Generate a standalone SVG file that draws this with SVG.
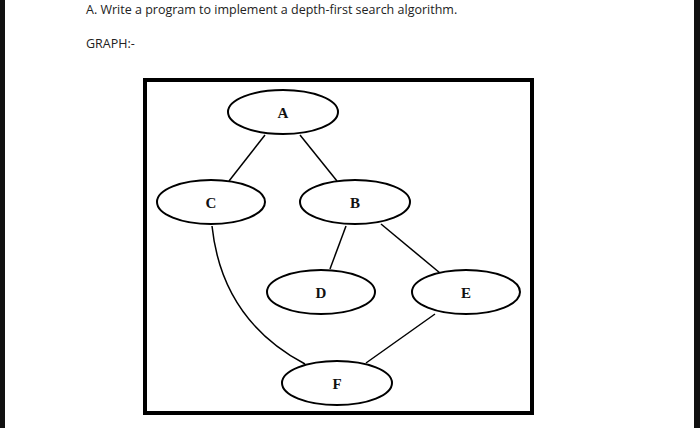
<svg xmlns="http://www.w3.org/2000/svg" width="700" height="428" viewBox="0 0 700 428">
<style>
.t{font-family:"Open Sans","Liberation Sans",sans-serif;font-size:12.5px;fill:#222}
.n ellipse{fill:#fff;stroke:#000;stroke-width:2}
.n text{font-family:"Liberation Serif",serif;font-size:15px;font-weight:bold;text-anchor:middle;fill:#111}
.e{stroke:#000;stroke-width:1.5;fill:none}
</style>
<rect width="700" height="428" fill="#fff"/>
<rect x="0" y="0" width="5" height="428" fill="#111"/>
<rect x="694" y="0" width="6" height="428" fill="#111"/>
<text class="t" x="86" y="14">A. Write a program to implement a depth-first search algorithm.</text>
<text class="t" x="86" y="48">GRAPH:-</text>
<rect x="145" y="80" width="387" height="333" fill="none" stroke="#000" stroke-width="4"/>
<g id="edges">
<line class="e" x1="265" y1="135" x2="229" y2="181"/>
<line class="e" x1="300" y1="135" x2="337" y2="181"/>
<line class="e" x1="346" y1="226" x2="330" y2="269"/>
<line class="e" x1="381" y1="224" x2="440" y2="273"/>
<path class="e" d="M212 226 Q222 320 305 364"/>
<line class="e" x1="435" y1="314" x2="366" y2="363"/>
</g>
<g id="A" class="n"><ellipse cx="283" cy="112" rx="55" ry="22"/><text x="283" y="118">A</text></g>
<g id="C" class="n"><ellipse cx="211" cy="202" rx="54" ry="22"/><text x="211" y="208">C</text></g>
<g id="B" class="n"><ellipse cx="355" cy="202" rx="55" ry="22"/><text x="355" y="208">B</text></g>
<g id="D" class="n"><ellipse cx="321" cy="292" rx="54" ry="22"/><text x="321" y="298">D</text></g>
<g id="E" class="n"><ellipse cx="466" cy="292" rx="54" ry="22"/><text x="466" y="298">E</text></g>
<g id="F" class="n"><ellipse cx="337" cy="383" rx="55" ry="22"/><text x="337" y="389">F</text></g>
</svg>
